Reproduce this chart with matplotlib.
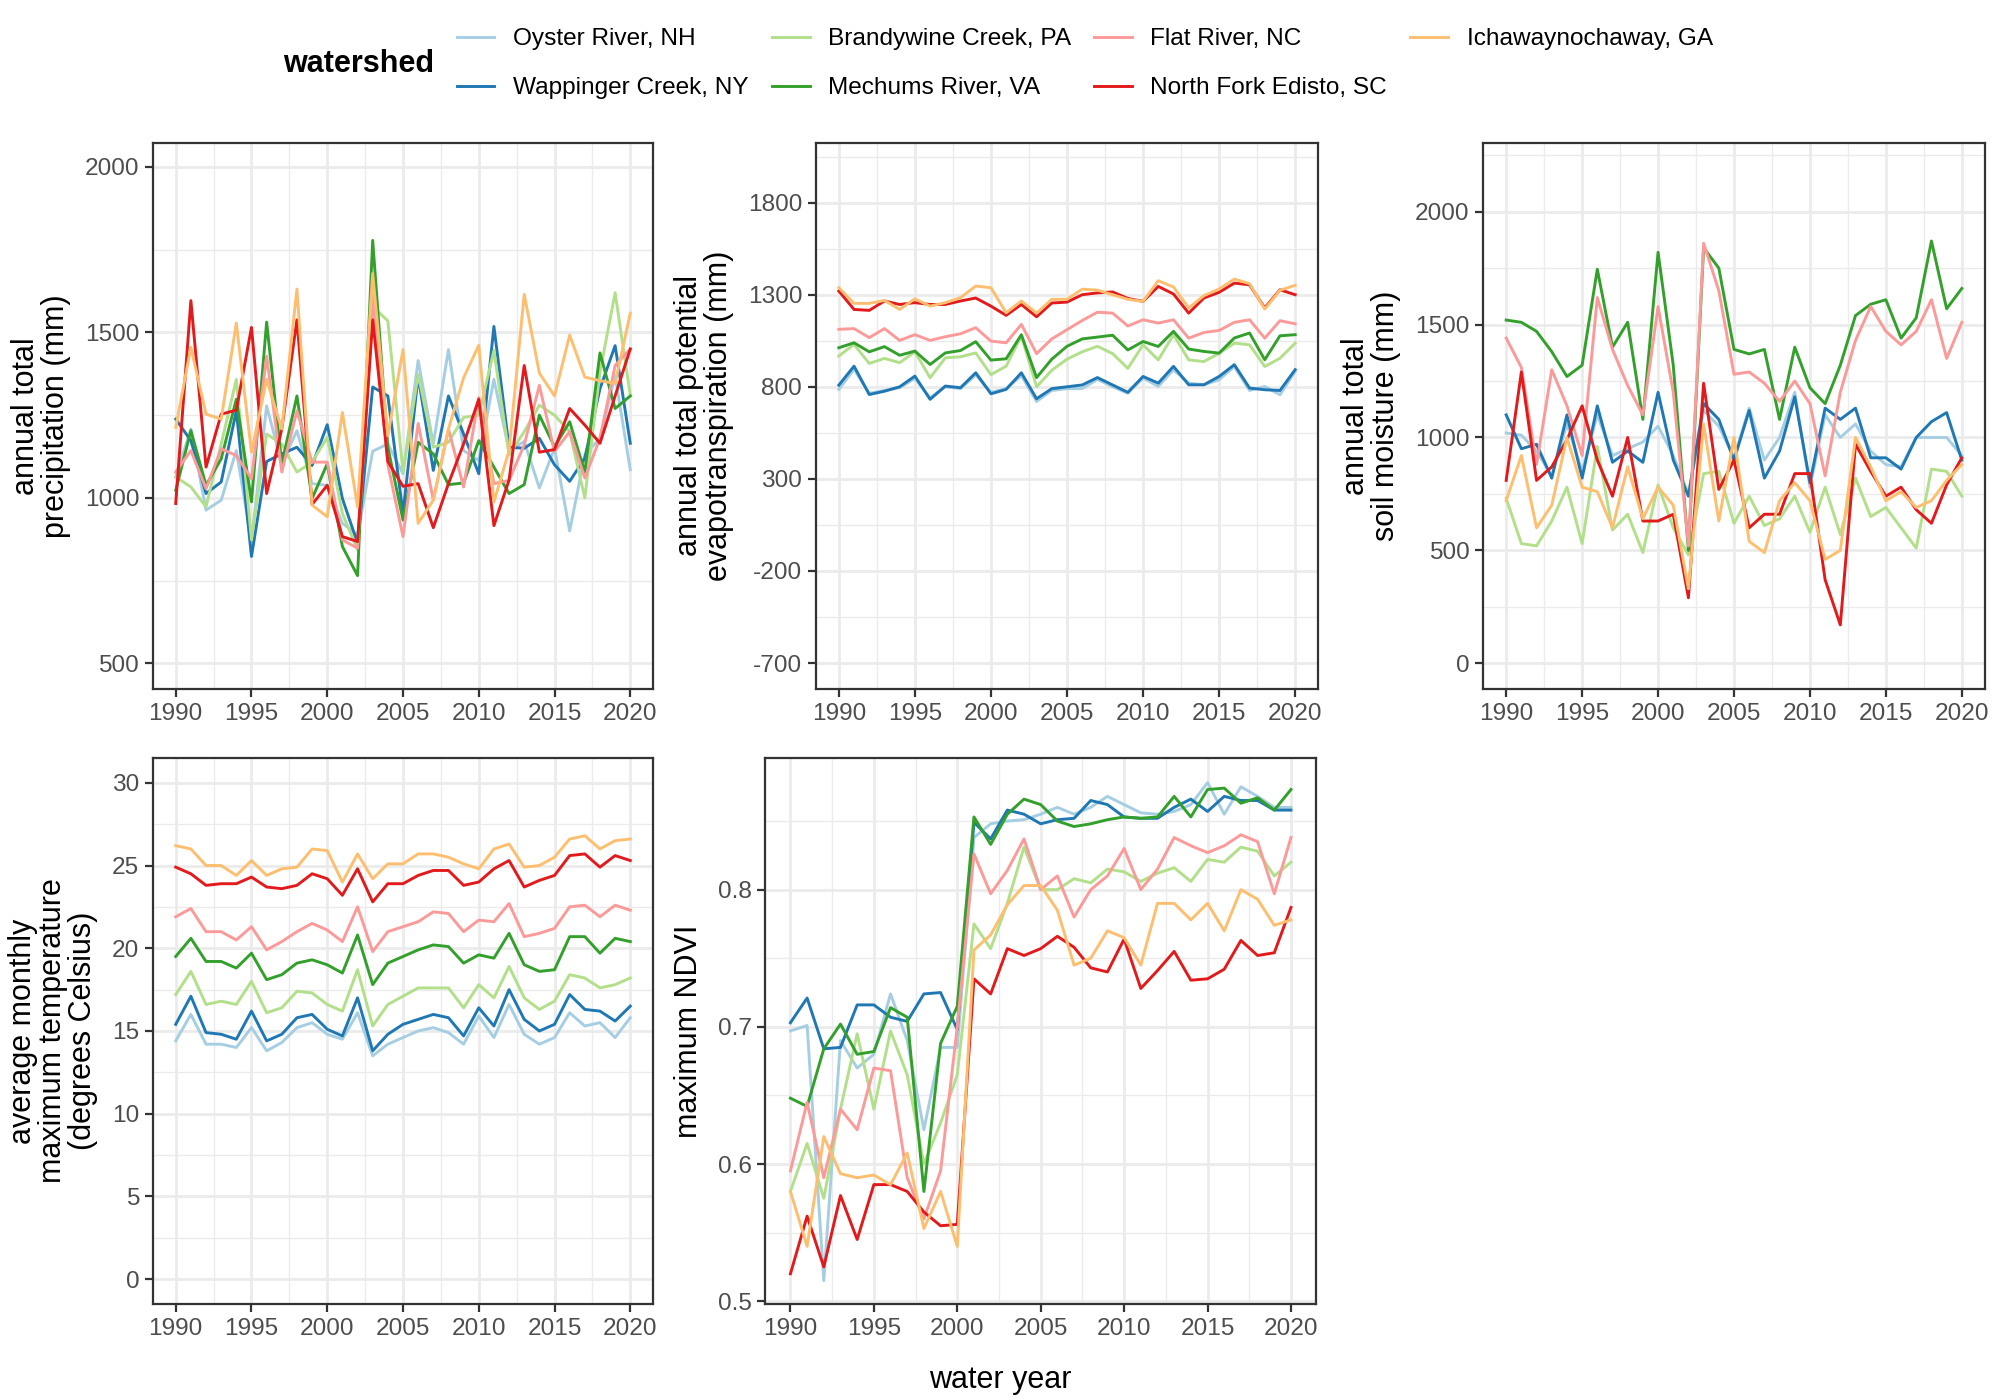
import numpy as np
import matplotlib
matplotlib.use("Agg")
import matplotlib.pyplot as plt
from matplotlib.ticker import MultipleLocator, FixedLocator

plt.rcParams['font.family'] = ['Liberation Sans', 'DejaVu Sans']
plt.rcParams['axes.unicode_minus'] = False

years = list(range(1990, 2021))
watersheds = ['Oyster River, NH', 'Wappinger Creek, NY', 'Brandywine Creek, PA',
              'Mechums River, VA', 'Flat River, NC', 'North Fork Edisto, SC',
              'Ichawaynochaway, GA']
colors = ['#a6cee3', '#1f78b4', '#b2df8a', '#33a02c', '#fb9a99', '#e31a1c', '#fdbf6f']

# annual total precipitation (mm), one list per watershed in the order above
precip = [
    [1063, 1208, 963, 993, 1143, 868, 1278, 1103, 1203, 1043, 1038, 923, 888, 1141, 1163, 1073,
     1415, 1163, 1448, 1143, 1113, 1358, 1143, 1170, 1030, 1150, 900, 1130, 1180, 1370, 1085],
    [1238, 1173, 1013, 1048, 1263, 823, 1110, 1133, 1153, 1098, 1221, 998, 863, 1335, 1308, 953,
     1368, 1083, 1308, 1193, 1073, 1518, 1153, 1150, 1180, 1100, 1050, 1120, 1330, 1460, 1165],
    [1063, 1033, 973, 1163, 1358, 873, 1193, 1163, 1078, 1108, 1183, 953, 843, 1578, 1535, 1078,
     1373, 1153, 1168, 1243, 1250, 1445, 1130, 1200, 1280, 1250, 1200, 1000, 1380, 1620, 1310],
    [1023, 1203, 1038, 1118, 1298, 988, 1531, 1103, 1308, 998, 1103, 853, 765, 1778, 1153, 933,
     1168, 1133, 1040, 1045, 1173, 1093, 1013, 1040, 1250, 1154, 1230, 1077, 1438, 1270, 1308],
    [1078, 1143, 1028, 1148, 1128, 1058, 1428, 1078, 1263, 1108, 1108, 873, 848, 1613, 1100, 883,
     1225, 993, 1208, 1033, 1303, 1043, 1053, 1160, 1340, 1140, 1200, 1060, 1180, 1400, 1450],
    [983, 1596, 1093, 1253, 1265, 1515, 1013, 1208, 1538, 980, 1038, 883, 868, 1538, 1110, 1035,
     1043, 910, 1043, 1163, 1298, 916, 1054, 1400, 1138, 1146, 1270, 1220, 1165, 1308, 1450],
    [1213, 1455, 1253, 1238, 1528, 1138, 1358, 1208, 1631, 978, 943, 1258, 973, 1678, 1188, 1448,
     923, 993, 1208, 1363, 1461, 988, 1143, 1615, 1377, 1308, 1492, 1365, 1354, 1346, 1558],
]

# annual total potential evapotranspiration (mm)
pet = [
    [786, 895, 765, 780, 795, 845, 740, 800, 790, 865, 770, 790, 860, 720, 780, 790,
     790, 840, 800, 765, 847, 802, 892, 820, 811, 838, 910, 780, 802, 757, 883],
    [809, 912, 758, 776, 800, 858, 732, 804, 795, 876, 762, 786, 876, 735, 790, 800,
     810, 850, 810, 770, 856, 820, 911, 811, 811, 856, 920, 793, 784, 780, 893],
    [967, 1030, 927, 954, 931, 990, 849, 957, 963, 984, 866, 912, 1076, 800, 890, 950,
     990, 1020, 980, 900, 1028, 946, 1083, 946, 937, 982, 1037, 1028, 910, 955, 1037],
    [1012, 1039, 990, 1018, 971, 994, 921, 984, 997, 1045, 945, 952, 1083, 850, 950, 1020,
     1060, 1070, 1080, 1000, 1046, 1019, 1101, 1005, 992, 983, 1065, 1092, 947, 1077, 1083],
    [1112, 1116, 1067, 1116, 1052, 1083, 1052, 1072, 1088, 1121, 1048, 1039, 1139, 980, 1060, 1110,
     1160, 1205, 1200, 1130, 1164, 1146, 1164, 1064, 1095, 1106, 1150, 1164, 1064, 1159, 1142],
    [1320, 1220, 1215, 1266, 1247, 1257, 1247, 1247, 1266, 1282, 1238, 1188, 1247, 1180, 1255, 1260,
     1300, 1310, 1315, 1280, 1264, 1345, 1304, 1200, 1282, 1313, 1363, 1354, 1228, 1327, 1300],
    [1338, 1253, 1253, 1269, 1220, 1278, 1238, 1257, 1284, 1347, 1338, 1202, 1266, 1200, 1275, 1275,
     1330, 1325, 1300, 1275, 1264, 1376, 1342, 1228, 1295, 1331, 1385, 1360, 1222, 1324, 1351],
]

# annual total soil moisture (mm)
soil = [
    [1020, 1010, 940, 830, 1060, 850, 1100, 920, 950, 980, 1050, 920, 750, 1120, 1050, 910,
     1130, 900, 1000, 1200, 780, 1100, 1000, 1060, 940, 880, 870, 1000, 1000, 1000, 920],
    [1100, 950, 970, 820, 1100, 820, 1140, 890, 940, 890, 1200, 900, 740, 1150, 1080, 900,
     1120, 820, 940, 1180, 800, 1130, 1080, 1130, 910, 910, 860, 1000, 1070, 1110, 900],
    [730, 530, 520, 630, 780, 530, 960, 590, 660, 490, 790, 600, 480, 840, 850, 620,
     740, 610, 640, 740, 580, 780, 570, 820, 650, 690, 600, 510, 860, 850, 740],
    [1520, 1510, 1470, 1380, 1270, 1320, 1745, 1400, 1510, 1080, 1820, 1320, 500, 1840, 1750, 1390,
     1370, 1390, 1080, 1400, 1220, 1150, 1320, 1540, 1590, 1610, 1440, 1530, 1870, 1570, 1660],
    [1440, 1310, 880, 1300, 1140, 920, 1620, 1390, 1230, 1100, 1580, 1200, 520, 1860, 1650, 1280,
     1290, 1240, 1160, 1250, 1150, 830, 1200, 1430, 1580, 1470, 1410, 1470, 1610, 1350, 1510],
    [810, 1290, 810, 870, 990, 1140, 900, 740, 1000, 630, 630, 660, 290, 1240, 770, 900,
     600, 660, 660, 840, 840, 370, 170, 970, 850, 740, 780, 680, 620, 790, 910],
    [720, 920, 600, 700, 1000, 780, 760, 600, 870, 640, 780, 700, 330, 1060, 630, 1000,
     540, 490, 720, 800, 720, 460, 500, 1000, 870, 720, 760, 690, 720, 810, 880],
]

# average monthly maximum temperature (degrees Celsius)
tmax = [
    [14.4, 16.0, 14.2, 14.2, 14.0, 15.2, 13.8, 14.3, 15.2, 15.5, 14.8, 14.5, 16.1, 13.5, 14.2, 14.6,
     15.0, 15.2, 14.9, 14.2, 15.9, 14.6, 16.6, 14.8, 14.2, 14.6, 16.1, 15.3, 15.5, 14.6, 15.8],
    [15.4, 17.1, 14.9, 14.8, 14.5, 16.2, 14.4, 14.8, 15.8, 16.0, 15.1, 14.7, 17.0, 13.8, 14.8, 15.4,
     15.7, 16.0, 15.8, 14.7, 16.4, 15.3, 17.5, 15.7, 15.0, 15.4, 17.2, 16.3, 16.2, 15.6, 16.5],
    [17.2, 18.6, 16.6, 16.8, 16.6, 18.0, 16.1, 16.4, 17.4, 17.3, 16.6, 16.2, 18.7, 15.3, 16.6, 17.1,
     17.6, 17.6, 17.6, 16.4, 17.8, 17.0, 18.9, 17.0, 16.3, 16.8, 18.4, 18.2, 17.6, 17.8, 18.2],
    [19.5, 20.6, 19.2, 19.2, 18.8, 19.7, 18.1, 18.4, 19.1, 19.3, 19.0, 18.5, 20.8, 17.8, 19.1, 19.5,
     19.9, 20.2, 20.1, 19.1, 19.6, 19.4, 20.9, 19.0, 18.6, 18.7, 20.7, 20.7, 19.7, 20.6, 20.4],
    [21.9, 22.4, 21.0, 21.0, 20.5, 21.3, 19.9, 20.4, 21.0, 21.5, 21.1, 20.4, 22.5, 19.8, 21.0, 21.3,
     21.6, 22.2, 22.1, 21.0, 21.7, 21.6, 22.7, 20.7, 20.9, 21.2, 22.5, 22.6, 21.9, 22.6, 22.3],
    [24.9, 24.5, 23.8, 23.9, 23.9, 24.3, 23.7, 23.6, 23.8, 24.5, 24.2, 23.2, 24.8, 22.8, 23.9, 23.9,
     24.4, 24.7, 24.7, 23.8, 24.0, 24.8, 25.3, 23.7, 24.1, 24.4, 25.6, 25.7, 24.9, 25.6, 25.3],
    [26.2, 26.0, 25.0, 25.0, 24.4, 25.3, 24.4, 24.8, 24.9, 26.0, 25.9, 24.0, 25.7, 24.2, 25.1, 25.1,
     25.7, 25.7, 25.5, 25.1, 24.8, 26.0, 26.3, 24.9, 25.0, 25.5, 26.6, 26.8, 26.0, 26.5, 26.6],
]

# maximum NDVI
ndvi = [
    [0.697, 0.701, 0.515, 0.690, 0.670, 0.680, 0.724, 0.690, 0.625, 0.685, 0.685, 0.838, 0.848,
     0.850, 0.851, 0.855, 0.860, 0.855, 0.860, 0.868, 0.862, 0.856, 0.855, 0.857, 0.862, 0.878,
     0.855, 0.875, 0.868, 0.860, 0.860],
    [0.703, 0.721, 0.684, 0.685, 0.716, 0.716, 0.707, 0.704, 0.724, 0.725, 0.698, 0.849, 0.837,
     0.858, 0.855, 0.848, 0.851, 0.852, 0.865, 0.862, 0.853, 0.852, 0.852, 0.860, 0.866, 0.857,
     0.868, 0.865, 0.865, 0.858, 0.858],
    [0.580, 0.615, 0.575, 0.640, 0.695, 0.640, 0.697, 0.665, 0.600, 0.630, 0.665, 0.775, 0.757,
     0.790, 0.831, 0.800, 0.800, 0.808, 0.805, 0.815, 0.813, 0.806, 0.812, 0.816, 0.806, 0.822,
     0.820, 0.831, 0.828, 0.810, 0.820],
    [0.648, 0.642, 0.684, 0.702, 0.680, 0.682, 0.714, 0.707, 0.580, 0.688, 0.715, 0.853, 0.833,
     0.855, 0.866, 0.862, 0.850, 0.846, 0.848, 0.851, 0.853, 0.852, 0.853, 0.868, 0.853, 0.873,
     0.874, 0.863, 0.867, 0.858, 0.873],
    [0.595, 0.645, 0.590, 0.640, 0.625, 0.670, 0.668, 0.590, 0.560, 0.595, 0.700, 0.826, 0.797,
     0.814, 0.837, 0.800, 0.810, 0.780, 0.800, 0.810, 0.830, 0.800, 0.815, 0.838, 0.832, 0.827,
     0.832, 0.840, 0.835, 0.797, 0.838],
    [0.520, 0.562, 0.525, 0.577, 0.545, 0.585, 0.585, 0.580, 0.565, 0.555, 0.556, 0.735, 0.724,
     0.757, 0.752, 0.757, 0.766, 0.758, 0.743, 0.740, 0.764, 0.728, 0.741, 0.755, 0.734, 0.735,
     0.742, 0.763, 0.752, 0.754, 0.787],
    [0.580, 0.540, 0.620, 0.593, 0.590, 0.592, 0.585, 0.608, 0.553, 0.580, 0.540, 0.756, 0.767,
     0.789, 0.803, 0.803, 0.785, 0.745, 0.750, 0.770, 0.765, 0.745, 0.790, 0.790, 0.778, 0.790,
     0.770, 0.800, 0.793, 0.774, 0.778],
]

fig = plt.figure(figsize=(10, 7), dpi=200)

panels = [
    # data, rect, y label, y ticks, y limits
    (precip, [0.0765, 0.508, 0.250, 0.390], 'annual total\nprecipitation (mm)',
     [500, 1000, 1500, 2000], (423, 2073)),
    (pet, [0.408, 0.508, 0.251, 0.390], 'annual total potential\nevapotranspiration (mm)',
     [-700, -200, 300, 800, 1300, 1800], (-840, 2125)),
    (soil, [0.7417, 0.508, 0.2506, 0.390], 'annual total\nsoil moisture (mm)',
     [0, 500, 1000, 1500, 2000], (-113, 2305)),
    (tmax, [0.0765, 0.0686, 0.250, 0.390],
     'average monthly\nmaximum temperature\n(degrees Celsius)',
     [0, 5, 10, 15, 20, 25, 30], (-1.5, 31.5)),
    (ndvi, [0.3827, 0.0686, 0.2753, 0.390], 'maximum NDVI',
     [0.5, 0.6, 0.7, 0.8], (0.498, 0.896)),
]

lines = []
for data, rect, ylab, yt, ylim in panels:
    ax = fig.add_axes(rect)
    lines = []
    for vals, col, name in zip(data, colors, watersheds):
        ln, = ax.plot(years, vals, color=col, lw=1.05, label=name, zorder=3)
        lines.append(ln)
    ax.set_xlim(1988.5, 2021.5)
    ax.set_ylim(*ylim)
    ax.xaxis.set_major_locator(MultipleLocator(5))
    ax.xaxis.set_minor_locator(FixedLocator(np.arange(1992.5, 2020, 5)))
    ax.set_yticks(yt)
    step = yt[1] - yt[0]
    ax.yaxis.set_minor_locator(FixedLocator(np.arange(yt[0] - step / 2, yt[-1] + step, step)))
    ax.grid(which='major', color='#EBEBEB', lw=1.0, zorder=0)
    ax.grid(which='minor', color='#EBEBEB', lw=0.5, zorder=0)
    ax.set_axisbelow(True)
    for s in ax.spines.values():
        s.set_color('#333333')
        s.set_linewidth(0.8)
    ax.tick_params(which='major', length=2.75, width=0.8, color='#333333',
                   labelcolor='#4D4D4D', labelsize=8.8, pad=2.2)
    ax.tick_params(which='minor', length=0)
    ax.set_ylabel(ylab, fontsize=11, linespacing=1.0, labelpad=5)

fig.text(0.5, 0.0143, 'water year', ha='center', va='center', fontsize=11)

fig.text(0.1415, 0.9545, 'watershed', ha='left', va='center', fontsize=11,
         fontweight='bold')
fig.legend(lines, watersheds, ncol=4, loc='center left',
           bbox_to_anchor=(0.2283, 0.9545), frameon=False, fontsize=8.8,
           handlelength=1.55, handletextpad=0.75, columnspacing=0.95,
           labelspacing=1.1, borderpad=0, borderaxespad=0)

fig.savefig('out.png', dpi=200)
